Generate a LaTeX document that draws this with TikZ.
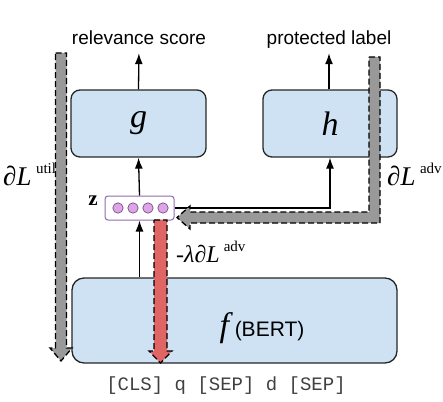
\documentclass[tikz,border=0pt]{standalone}
\usepackage{fontspec}
\setmainfont{Liberation Serif}
\setsansfont{Liberation Sans}
\setmonofont{Liberation Mono}
\usetikzlibrary{arrows.meta,positioning}

\definecolor{boxblue}{HTML}{CFE2F3}
\definecolor{gradgray}{HTML}{999999}
\definecolor{gradred}{HTML}{E06666}
\definecolor{zline}{HTML}{8E6BB0}
\definecolor{zfill}{HTML}{DCA6E6}
\definecolor{zdot}{HTML}{6A3D7A}

\tikzset{
  netbox/.style={draw=black!85,line width=1.3pt,fill=boxblue,rounded corners=9pt},
  outlabel/.style={font=\sffamily\fontsize{19}{21}\selectfont,anchor=base,text depth=0pt,inner sep=0pt},
  flow/.style={line width=1.3pt,-{Latex[length=11pt,width=8pt]}},
  grad/.style={draw=black,line width=1.3pt,dash pattern=on 6pt off 3pt,line join=miter},
  losslabel/.style={font=\fontsize{27}{30}\selectfont,anchor=base west,inner sep=0pt},
}

\newcommand{\lossup}[1]{\,\raisebox{0.42em}{\fontsize{15}{17}\selectfont #1}}

\begin{document}
\begin{tikzpicture}[x=1pt,y=-1pt]
\useasboundingbox (0,0) rectangle (443,401);

% The three networks
\node[netbox,minimum width=135pt,minimum height=67pt] (g) at (138.5,123.5)
  {\fontsize{34}{36}\selectfont\itshape g};
\node[netbox,minimum width=134pt,minimum height=67pt] (h) at (330,123.5)
  {\fontsize{34}{36}\selectfont\itshape h};
\node[netbox,rounded corners=12pt,minimum width=325pt,minimum height=85pt] (f) at (234.5,320.5) {};
\node[anchor=base,inner sep=0pt] (fname) at (262,336)
  {\fontsize{34}{36}\selectfont\itshape f\,\upshape\sffamily\fontsize{21}{23}\selectfont(BERT)};

% Outputs on top
\node[outlabel] (score) at (139,45) {relevance score};
\node[outlabel] (prot) at (329,45) {protected label};

% The representation z
\node[draw=zline,line width=1pt,fill=white,rounded corners=3pt,
      minimum width=69pt,minimum height=24pt,inner sep=0pt] (z) at (139.5,208) {};
\foreach \i in {0,...,3}
  \fill[zfill,draw=zdot,line width=0.6pt] ([xshift={-21.5+15*\i}]z.center) circle (5.2pt);
\node[anchor=base,inner sep=0pt,font=\bfseries\fontsize{21}{23}\selectfont] (zname) at (93,205) {z};

% Forward pass
\draw[flow,shorten >=8pt] (g.north) -- (score.south);
\draw[flow,shorten >=8pt] (h.north -| prot.south) -- (prot.south);
\draw[flow] (z.north) -- (g.south);
\draw[flow] (f.north -| z.south) -- (z.south);
\draw[flow] (z.east) -| (h.south);

% Gradient of the utility loss
\draw[grad,fill=gradgray] (55.5,53) -- (66.5,53) -- (66.5,348) -- (72,348)
  -- (61,361) -- (50,348) -- (55.5,348) -- cycle;
\node[losslabel] (lutil) at (3,185) {∂\textit{L}\lossup{util}};

% Gradient of the adversarial loss, back into z
\draw[grad,fill=gradgray] (369,57) -- (380,57) -- (380,223) -- (190,223)
  -- (190,229) -- (177,217.5) -- (190,206) -- (190,212) -- (369,212) -- cycle;
\node[losslabel] (ladv) at (387,185) {∂\textit{L}\lossup{adv}};

% Reversed gradient into the encoder
\draw[grad,fill=gradred] (154,220) -- (167,220) -- (167,351) -- (172,351)
  -- (160.5,363) -- (149,351) -- (154,351) -- cycle;
\node[losslabel,font=\fontsize{24}{26}\selectfont] (lrev) at (176,262)
  {-\textit{λ}∂\textit{L}\lossup{adv}};

% Input sequence
\node[anchor=base,inner sep=0pt,text=black!75,font=\ttfamily\fontsize{19}{21}\selectfont] (seq)
  at (226,390) {[CLS] q [SEP] d [SEP]};

\end{tikzpicture}
\end{document}
